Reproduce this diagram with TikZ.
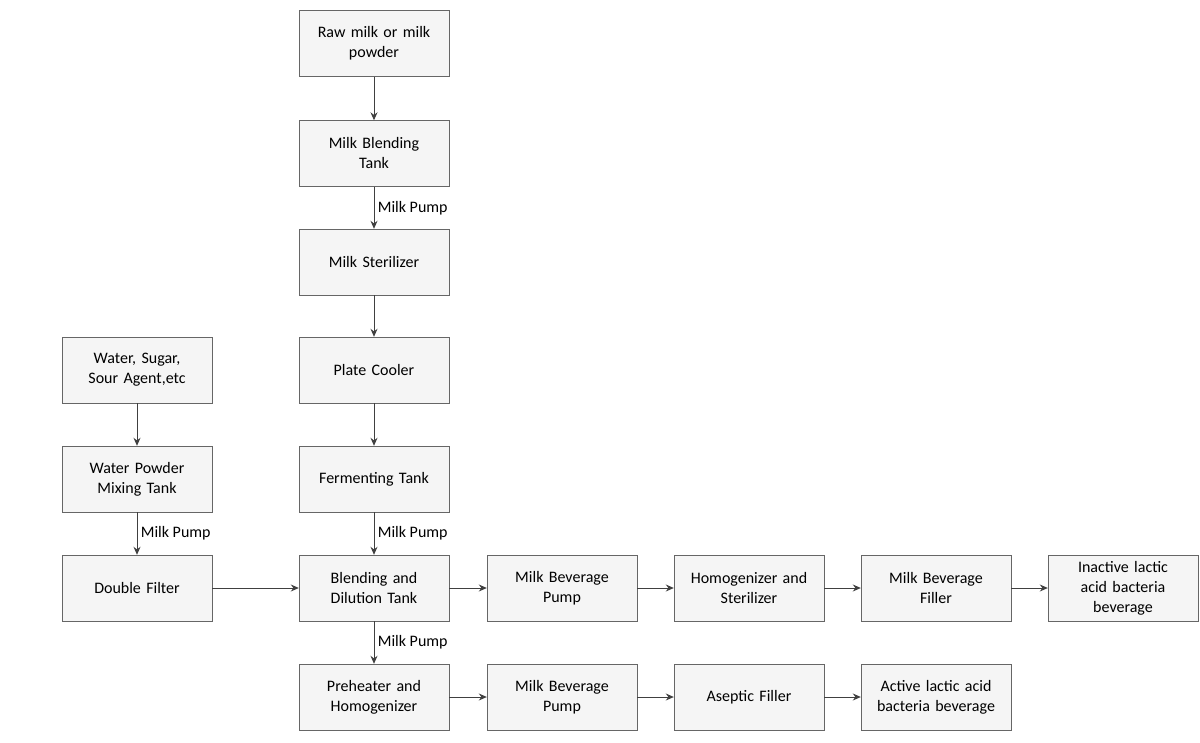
\documentclass[tikz,border=0pt]{standalone}
\usepackage{fontspec}
\setmainfont{Carlito}
\usetikzlibrary{arrows.meta}
\begin{document}
\begin{tikzpicture}[x=1pt,y=-1pt,
  box/.style={draw=gray!80!black,fill=gray!8,minimum width=150pt,minimum height=66pt,align=center,font=\fontsize{16}{20}\selectfont,inner sep=2pt,text width=140pt},
  arr/.style={draw=black!75,line width=1pt,-{Stealth[length=8pt,width=7pt]}},
  lbl/.style={font=\fontsize{16}{20}\selectfont,anchor=west}]
\useasboundingbox (0,0) rectangle (1200,742);
\node[box] (raw) at (374,43.5) {Raw milk or milk\\powder};
\node[box] (mbt) at (374,153.5) {Milk Blending\\Tank};
\node[box] (ster) at (374,262) {Milk Sterilizer};
\node[box] (plate) at (374,370) {Plate Cooler};
\node[box] (ferm) at (374,479) {Fermenting Tank};
\node[box] (blend) at (374,588) {Blending and\\Dilution Tank};
\node[box] (pre) at (374,697) {Preheater and\\Homogenizer};
\node[box] (water) at (137,370) {Water, Sugar,\\Sour Agent,etc};
\node[box] (wpm) at (137,479) {Water Powder\\Mixing Tank};
\node[box] (df) at (137,588) {Double Filter};
\node[box] (mbp1) at (562,588) {Milk Beverage\\Pump};
\node[box] (hom) at (749,588) {Homogenizer and\\Sterilizer};
\node[box] (fill) at (936,588) {Milk Beverage\\Filler};
\node[box] (inact) at (1123,588) {Inactive lactic\\acid bacteria\\beverage};
\node[box] (mbp2) at (562,697) {Milk Beverage\\Pump};
\node[box] (asep) at (749,697) {Aseptic Filler};
\node[box] (act) at (936,697) {Active lactic acid\\bacteria beverage};
\draw[arr] (raw) -- (mbt);
\draw[arr] (mbt) -- node[lbl]{Milk Pump} (ster);
\draw[arr] (ster) -- (plate);
\draw[arr] (plate) -- (ferm);
\draw[arr] (ferm) -- node[lbl]{Milk Pump} (blend);
\draw[arr] (blend) -- node[lbl]{Milk Pump} (pre);
\draw[arr] (water) -- (wpm);
\draw[arr] (wpm) -- node[lbl]{Milk Pump} (df);
\draw[arr] (df) -- (blend);
\draw[arr] (blend) -- (mbp1);
\draw[arr] (mbp1) -- (hom);
\draw[arr] (hom) -- (fill);
\draw[arr] (fill) -- (inact);
\draw[arr] (pre) -- (mbp2);
\draw[arr] (mbp2) -- (asep);
\draw[arr] (asep) -- (act);
\end{tikzpicture}
\end{document}
